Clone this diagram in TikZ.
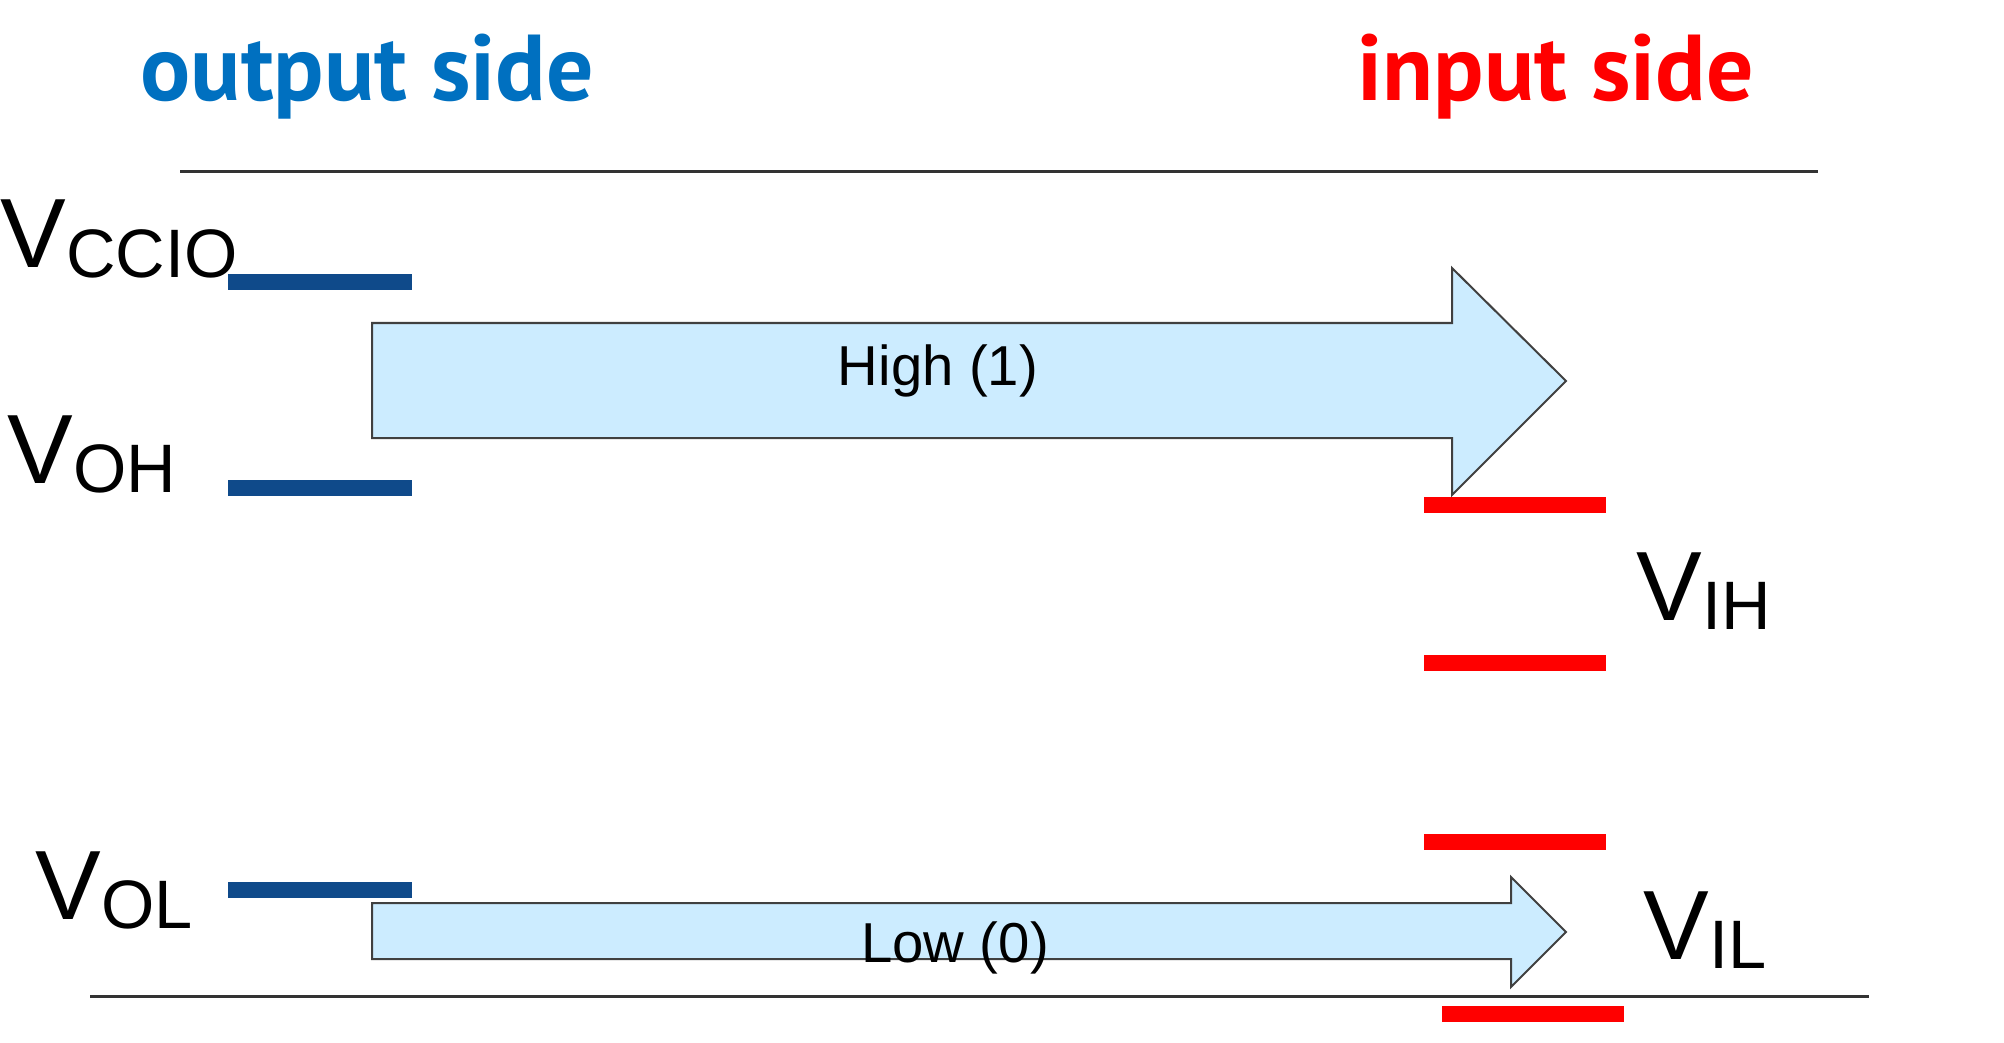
\documentclass[tikz,border=0pt]{standalone}
\usepackage{fontspec}
\setmainfont{Liberation Sans}
\newfontfamily\titlefont{PT Sans}
\definecolor{outblue}{RGB}{0,112,192}
\definecolor{barblue}{RGB}{15,74,138}
\definecolor{arrowfill}{RGB}{204,236,255}
\newcommand{\vlevel}[1]{{\fontsize{28}{28}\selectfont V}{\fontsize{19.5}{19.5}\selectfont\raisebox{-0.09cm}{#1}}}
\begin{document}
\begin{tikzpicture}[x=0.01cm,y=-0.01cm,
  outbar/.style={barblue,line width=0.16cm},
  inbar/.style={red,line width=0.16cm},
  sigarrow/.style={fill=arrowfill,draw=black!75,line width=0.02cm,line join=miter},
  vlab/.style={anchor=base west,inner sep=0pt}]
\useasboundingbox (0,0) rectangle (2004,1043);
\node[anchor=base west,inner sep=0pt,text=outblue] (out_side) at (140,101) {\titlefont\bfseries\fontsize{26.6}{26.6}\selectfont output side};
\node[anchor=base west,inner sep=0pt,text=red] (in_side) at (1357,101) {\titlefont\bfseries\fontsize{26.6}{26.6}\selectfont input side};
\draw[black!80,line width=0.03cm] (180,172) -- (1818,172);
\draw[black!80,line width=0.03cm] (90,996) -- (1869,996);
%output levels
\draw[outbar] (228,282) -- (412,282);
\draw[outbar] (228,488) -- (412,488);
\draw[outbar] (228,890) -- (412,890);
%input levels
\draw[inbar] (1424,505) -- (1606,505);
\draw[inbar] (1424,663) -- (1606,663);
\draw[inbar] (1424,842) -- (1606,842);
\draw[inbar] (1442,1014) -- (1624,1014);
\draw[sigarrow] (372,323) -- (1452,323) -- (1452,268) -- (1566,381) -- (1452,495) -- (1452,438) -- (372,438) -- cycle;
\draw[sigarrow] (372,903) -- (1511,903) -- (1511,877) -- (1566,932) -- (1511,987) -- (1511,959) -- (372,959) -- cycle;
\node[anchor=base,inner sep=0pt,font=\fontsize{16}{16}\selectfont] (high) at (938,385) {High (1)};
\node[anchor=base,inner sep=0pt,font=\fontsize{16}{16}\selectfont] (low) at (955,962) {Low (0)};
\node[vlab] (V_CCIO) at (0,268) {\vlevel{CCIO}};
\node[vlab] (V_OH) at (7,483) {\vlevel{OH}};
\node[vlab] (V_OL) at (35,919) {\vlevel{OL}};
\node[vlab] (V_IH) at (1636,620) {\vlevel{IH}};
\node[vlab] (V_IL) at (1643,959) {\vlevel{IL}};
\end{tikzpicture}
\end{document}
